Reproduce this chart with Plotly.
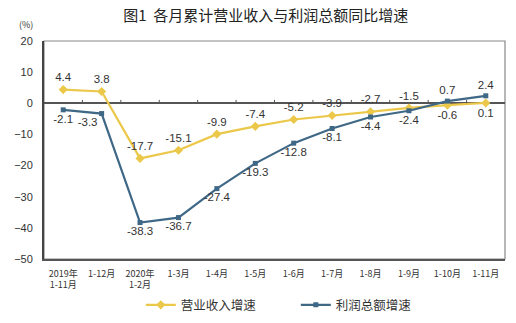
import plotly.graph_objects as go

categories = ["2019年<br>1-11月", "1-12月", "2020年<br>1-2月", "1-3月", "1-4月", "1-5月",
              "1-6月", "1-7月", "1-8月", "1-9月", "1-10月", "1-11月"]
revenue = [4.4, 3.8, -17.7, -15.1, -9.9, -7.4, -5.2, -3.9, -2.7, -1.5, -0.6, 0.1]
profit = [-2.1, -3.3, -38.3, -36.7, -27.4, -19.3, -12.8, -8.1, -4.4, -2.4, 0.7, 2.4]
rev_pos = ["top center"] * 10 + ["bottom center"] * 2
pro_pos = ["bottom center", "bottom left"] + ["bottom center"] * 8 + ["top center"] * 2

YELLOW = "#EBC84A"
BLUE = "#3F6887"
CJK = "Noto Sans CJK SC"

fig = go.Figure()
fig.add_trace(go.Scatter(
    x=categories, y=revenue, name="营业收入增速", mode="lines+markers+text",
    line=dict(color=YELLOW, width=2.2), marker=dict(symbol="diamond", size=7, color=YELLOW),
    text=[f"{v:.1f}" for v in revenue], textposition=rev_pos,
    textfont=dict(family="Liberation Sans, Arial", size=11.5, color="#333"),
    cliponaxis=False))
fig.add_trace(go.Scatter(
    x=categories, y=profit, name="利润总额增速", mode="lines+markers+text",
    line=dict(color=BLUE, width=2.2), marker=dict(symbol="square", size=5, color=BLUE),
    text=[f"{v:.1f}" for v in profit], textposition=pro_pos,
    textfont=dict(family="Liberation Sans, Arial", size=11.5, color="#333"),
    cliponaxis=False))

shapes = [dict(type="rect", xref="paper", yref="paper", x0=0, x1=1, y0=0, y1=1,
               line=dict(color="#888", width=1.2), layer="below")]
for i in range(len(categories) - 1):
    shapes.append(dict(type="line", xref="x", yref="y", x0=i + 0.5, x1=i + 0.5, y0=0, y1=1.1,
                       line=dict(color="#555", width=1)))

fig.update_layout(
    width=516, height=323,
    margin=dict(l=44, r=11, t=41, b=64, autoexpand=False),
    paper_bgcolor="white", plot_bgcolor="white",
    title=dict(text="图1  各月累计营业收入与利润总额同比增速", x=0.515, xanchor="center",
               y=0.95, yanchor="middle", font=dict(family=CJK, size=15, color="#222")),
    xaxis=dict(type="category", range=[-0.5, 11.5], showgrid=False, ticks="",
               showline=True, linecolor="#555", linewidth=1.5, automargin=False,
               ticklabelstandoff=5,
               tickfont=dict(family=CJK, size=9, color="#333")),
    yaxis=dict(range=[-50, 20], dtick=10, showgrid=False, showline=True,
               linecolor="#444", linewidth=2, ticks="", zeroline=True, automargin=False,
               zerolinecolor="#555", zerolinewidth=1.5, ticklabelstandoff=7,
               tickfont=dict(family="Liberation Sans, Arial", size=11, color="#333")),
    legend=dict(orientation="h", x=0.21, xanchor="left", yref="container",
                y=0.055, yanchor="middle",
                font=dict(family=CJK, size=12.5, color="#333"), itemwidth=30,
                entrywidth=110),
    showlegend=True,
    shapes=shapes,
    annotations=[dict(text="(%)", xref="paper", yref="paper", x=-0.02, y=1.075,
                      xanchor="right", yanchor="middle", showarrow=False,
                      font=dict(family=CJK, size=9, color="#333"))],
)

fig.write_html("out.html")
